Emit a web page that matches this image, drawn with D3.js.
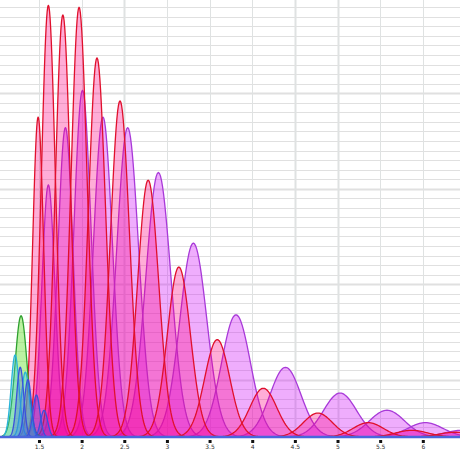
<!DOCTYPE html>
<html>
<head>
<meta charset="utf-8">
<script src="https://cdn.jsdelivr.net/npm/d3@7"></script>
<style>
  body { margin: 0; background: #fff; }
  svg { display: block; }
</style>
</head>
<body>
<svg id="chart" width="460" height="460"></svg>
<script>
// axis ticks
const xTicks = [1.5, 2, 2.5, 3, 3.5, 4, 4.5, 5, 5.5, 6];
const xTickLabels = ["1.5", "2", "2.5", "3", "3.5", "4", "4.5", "5", "5.5", "6"];
const yGrid = d3.range(1, 46);

// red series: peak centre, height, width (sigma)
const redCenters = [1.49, 1.61, 1.78, 1.97, 2.18, 2.45, 2.78, 3.14, 3.59, 4.13, 4.77, 5.36, 5.87, 6.38];
const redHeights = [33.5, 45.2, 44.2, 45.0, 39.7, 35.2, 26.9, 17.8, 10.2, 5.1, 2.5, 1.5, 0.7, 0.5];
const redWidths  = [0.064, 0.082, 0.088, 0.094, 0.100, 0.111, 0.123, 0.135, 0.147, 0.158, 0.170, 0.176, 0.188, 0.188];

// purple series
const purpleCenters = [1.61, 1.81, 2.01, 2.25, 2.54, 2.90, 3.31, 3.81, 4.39, 5.03, 5.58, 6.03, 6.46];
const purpleHeights = [26.4, 32.4, 36.3, 33.5, 32.4, 27.7, 20.3, 12.8, 7.3, 4.6, 2.8, 1.5, 0.7];
const purpleWidths  = [0.076, 0.088, 0.100, 0.111, 0.129, 0.147, 0.158, 0.170, 0.182, 0.193, 0.205, 0.205, 0.205];

// small peaks on the left
const greenCenters = [1.29];
const greenHeights = [12.7];
const greenWidths  = [0.070];

const cyanCenters = [1.22, 1.34];
const cyanHeights = [8.6, 6.8];
const cyanWidths  = [0.047, 0.047];

const blueCenters = [1.28, 1.37, 1.47, 1.56];
const blueHeights = [7.3, 6.0, 4.4, 2.8];
const blueWidths  = [0.041, 0.041, 0.041, 0.041];

const W = 460, H = 460, baseY = 437;

const svg = d3.select("#chart");

const x = d3.scaleLinear().domain([1.043, 6.436]).range([0, W]);
const y = d3.scaleLinear().domain([0, 45.76]).range([baseY, 0]);

// grid
svg.append("g")
    .selectAll("line.hgrid")
    .data(yGrid)
    .join("line")
    .attr("class", "hgrid")
    .attr("x1", 0).attr("x2", W)
    .attr("y1", d => Math.round(y(d)) + 0.5)
    .attr("y2", d => Math.round(y(d)) + 0.5)
    .attr("stroke", "#e0e0e0")
    .attr("stroke-width", d => d % 10 == 6 ? 2 : 1);

const thickV = [2.5, 4.5, 5];
svg.append("g")
    .selectAll("line.vgrid")
    .data(xTicks)
    .join("line")
    .attr("class", "vgrid")
    .attr("x1", d => Math.round(x(d)) + 0.5)
    .attr("x2", d => Math.round(x(d)) + 0.5)
    .attr("y1", 0).attr("y2", baseY)
    .attr("stroke", "#dfe2e2")
    .attr("stroke-width", d => thickV.includes(d) ? 2 : 1);

// peaks
function peakPoints(c, h, s) {
    const pts = [];
    for (let i = -48; i <= 48; i++) {
        const u = c + i * s / 12;
        const v = h * Math.exp(-0.5 * Math.pow((u - c) / s, 2));
        pts.push([u, v]);
    }
    return pts;
}

const area = d3.area()
    .x(d => x(d[0]))
    .y0(y(0))
    .y1(d => y(d[1]));

const line = d3.line()
    .x(d => x(d[0]))
    .y(d => y(d[1]));

const plot = svg.append("g");

function drawSeries(centers, heights, widths, fill, stroke) {
    const peaks = centers.map((c, i) => peakPoints(c, heights[i], widths[i]));
    const g = plot.append("g");
    g.selectAll("path.fill")
        .data(peaks)
        .join("path")
        .attr("class", "fill")
        .attr("d", area)
        .attr("fill", fill);
    g.selectAll("path.edge")
        .data(peaks)
        .join("path")
        .attr("class", "edge")
        .attr("d", line)
        .attr("fill", "none")
        .attr("stroke", stroke)
        .attr("stroke-width", 1.3)
        .attr("stroke-linejoin", "round");
}

drawSeries(purpleCenters, purpleHeights, purpleWidths, "rgba(205,0,250,0.32)", "#a83ad8");
drawSeries(redCenters, redHeights, redWidths, "rgba(255,0,130,0.32)", "#e0102c");
drawSeries(greenCenters, greenHeights, greenWidths, "rgba(120,230,70,0.5)", "#2ea02e");
drawSeries(cyanCenters, cyanHeights, cyanWidths, "rgba(60,200,230,0.35)", "#28b4d8");
drawSeries(blueCenters, blueHeights, blueWidths, "rgba(60,80,230,0.3)", "#3c50dc");

// baseline axis
const xAxis = d3.axisBottom(x)
    .tickValues(xTicks)
    .tickFormat((d, i) => xTickLabels[i])
    .tickSize(0)
    .tickPadding(8);

const ax = svg.append("g")
    .attr("transform", `translate(0,${baseY})`)
    .call(xAxis);
ax.select(".domain").remove();
ax.selectAll("text")
    .attr("font-family", "DejaVu Sans, sans-serif")
    .attr("font-size", 6)
    .attr("fill", "#333");
ax.selectAll(".tick")
    .append("rect")
    .attr("x", -1.5).attr("y", 3)
    .attr("width", 3).attr("height", 3)
    .attr("fill", "#111");

svg.append("line")
    .attr("x1", 0).attr("x2", W)
    .attr("y1", baseY).attr("y2", baseY)
    .attr("stroke", "#4a66dc")
    .attr("stroke-width", 2.5);
</script>
</body>
</html>
